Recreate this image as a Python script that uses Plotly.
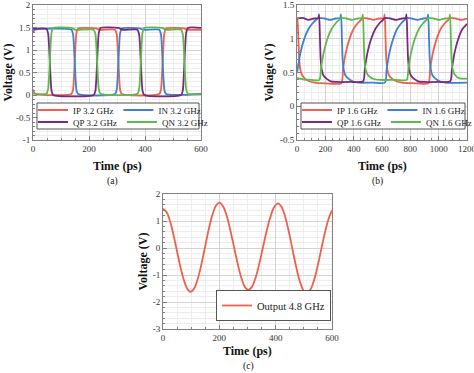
import plotly.graph_objects as go

# ---------------- data ----------------
# Panel (a) 3.2 GHz quadrature outputs
IP_A_T = [0, 8, 137, 143, 149, 155, 161, 225, 240, 293, 299, 305, 311, 317, 451, 457, 463, 469, 475, 539, 554, 600]
IP_A_V = [0.12, 0.03, 0.02, 0.12, 0.74, 1.37, 1.48, 1.48, 1.45, 1.45, 1.35, 0.74, 0.12, 0.02, 0.02, 0.12, 0.74, 1.37, 1.48, 1.48, 1.45, 1.45]
IN_A_T = [0, 6, 137, 143, 149, 155, 161, 293, 299, 305, 311, 317, 381, 396, 451, 457, 463, 469, 475, 600]
IN_A_V = [1.38, 1.45, 1.45, 1.35, 0.74, 0.12, 0.02, 0.02, 0.12, 0.74, 1.37, 1.48, 1.48, 1.45, 1.45, 1.35, 0.74, 0.12, 0.02, 0.02]
QP_A_T = [0, 48, 54, 60, 66, 72, 217, 223, 229, 235, 241, 305, 320, 373, 379, 385, 391, 397, 529, 535, 541, 547, 553, 600]
QP_A_V = [1.47, 1.47, 1.37, 0.74, 0.10, 0.0, 0.0, 0.10, 0.74, 1.38, 1.49, 1.49, 1.45, 1.45, 1.35, 0.74, 0.10, 0.0, 0.0, 0.10, 0.74, 1.38, 1.49, 1.49]
QN_A_T = [0, 48, 54, 60, 66, 72, 136, 151, 217, 223, 229, 235, 241, 373, 379, 385, 391, 397, 461, 476, 529, 535, 541, 547, 553, 600]
QN_A_V = [0.03, 0.03, 0.13, 0.74, 1.38, 1.49, 1.49, 1.45, 1.45, 1.35, 0.74, 0.13, 0.03, 0.03, 0.13, 0.74, 1.38, 1.49, 1.49, 1.45, 1.45, 1.35, 0.74, 0.13, 0.03, 0.03]

# Panel (b) 1.6 GHz quadrature outputs
IP_B_T = [0, 4, 10, 15, 22, 34, 56, 86, 126, 200, 313, 325, 343, 368, 398, 428, 458, 467, 500, 540, 580, 613, 619,
          625, 630, 637, 649, 671, 701, 741, 850, 928, 940, 958, 983, 1013, 1043, 1073, 1082, 1120, 1160, 1200]
IP_B_V = [1.30, 1.25, 1.0, 0.72, 0.56, 0.47, 0.41, 0.37, 0.35, 0.34, 0.34, 0.55, 0.78, 0.98, 1.14, 1.23, 1.29, 1.31, 1.30, 1.28, 1.30, 1.31, 1.36,
          1.0, 0.7, 0.55, 0.46, 0.41, 0.37, 0.35, 0.34, 0.34, 0.55, 0.78, 0.98, 1.14, 1.23, 1.29, 1.31, 1.30, 1.28, 1.30]
IN_B_T = [0, 8, 25, 50, 80, 110, 140, 158, 195, 235, 270, 305, 311, 317, 322, 329, 341, 363, 393, 433, 540, 621, 633, 651, 676,
          706, 736, 766, 775, 810, 850, 890, 920, 926, 932, 937, 944, 956, 978, 1008, 1048, 1200]
IN_B_V = [0.49, 0.60, 0.80, 0.99, 1.14, 1.23, 1.29, 1.31, 1.30, 1.28, 1.30, 1.31, 1.36, 1.0, 0.7, 0.55, 0.46, 0.41, 0.37, 0.35, 0.35, 0.35, 0.55, 0.78, 0.98,
          1.14, 1.23, 1.29, 1.31, 1.30, 1.28, 1.30, 1.31, 1.36, 1.0, 0.7, 0.55, 0.46, 0.41, 0.37, 0.35, 0.35]
QP_B_T = [0, 40, 80, 120, 150, 156, 162, 167, 174, 186, 208, 238, 278, 380, 467, 479, 497, 522, 552, 582, 612, 621, 660, 700, 740,
          767, 773, 779, 784, 791, 803, 825, 855, 895, 1000, 1082, 1094, 1112, 1137, 1167, 1200]
QP_B_V = [1.30, 1.31, 1.28, 1.30, 1.31, 1.36, 1.0, 0.7, 0.55, 0.46, 0.41, 0.37, 0.36, 0.36, 0.37, 0.56, 0.79, 0.99, 1.14, 1.23, 1.29, 1.31, 1.30, 1.28, 1.30,
          1.31, 1.36, 1.0, 0.7, 0.55, 0.46, 0.41, 0.37, 0.36, 0.36, 0.37, 0.56, 0.79, 0.99, 1.14, 1.22]
QN_B_T = [0, 40, 100, 158, 170, 188, 213, 243, 273, 303, 313, 350, 390, 430, 459, 465, 471, 476, 483, 495, 517, 547, 587, 700, 775,
          787, 805, 830, 860, 890, 920, 928, 965, 1005, 1045, 1074, 1080, 1086, 1091, 1098, 1110, 1132, 1162, 1200]
QN_B_V = [0.42, 0.40, 0.39, 0.39, 0.57, 0.79, 0.99, 1.14, 1.23, 1.29, 1.31, 1.30, 1.28, 1.30, 1.31, 1.36, 1.0, 0.7, 0.56, 0.48, 0.43, 0.40, 0.39, 0.39, 0.39,
          0.57, 0.79, 0.99, 1.14, 1.23, 1.29, 1.31, 1.30, 1.28, 1.30, 1.31, 1.36, 1.0, 0.7, 0.56, 0.48, 0.43, 0.41, 0.41]

# Panel (c) 4.8 GHz output
OUT_T = [0, 13, 26, 39, 52, 65, 78, 88, 98, 111, 124, 137, 150, 163, 176, 189, 200, 213, 226, 239, 252, 265, 278, 291, 303,
         316, 329, 342, 355, 368, 381, 394, 408, 421, 434, 447, 460, 473, 486, 499, 510, 523, 536, 549, 562, 575, 588, 600]
OUT_V = [1.45, 1.32, 0.95, 0.40, -0.23, -0.84, -1.31, -1.54, -1.62, -1.49, -1.12, -0.57, 0.08, 0.72, 1.25, 1.58, 1.68, 1.55, 1.20, 0.66, 0.04, -0.58, -1.10, -1.45, -1.55,
         -1.43, -1.09, -0.58, 0.03, 0.63, 1.15, 1.50, 1.65, 1.52, 1.15, 0.59, -0.07, -0.71, -1.24, -1.58, -1.68, -1.55, -1.20, -0.67, -0.04, 0.57, 1.08, 1.39]

NAMES_A = ["IP 3.2 GHz", "IN 3.2 GHz", "QP 3.2 GHz", "QN 3.2 GHz"]
NAMES_B = ["IP 1.6 GHz", "IN 1.6 GHz", "QP 1.6 GHz", "QN 1.6 GHz"]
NAME_C = "Output 4.8 GHz"

XTICKS_A = [0, 200, 400, 600]
YTICKS_A = [-1, -0.5, 0, 0.5, 1, 1.5, 2]
YLABELS_A = ["-1", "-0.5", "0", "0.5", "1", "1.5", "2"]
XTICKS_B = [0, 200, 400, 600, 800, 1000, 1200]
YTICKS_B = [-0.5, 0, 0.5, 1, 1.5]
YLABELS_B = ["-0.5", "0", "0.5", "1", "1.5"]
XTICKS_C = [0, 200, 400, 600]
YTICKS_C = [-3, -2, -1, 0, 1, 2]
YLABELS_C = ["-3", "-2", "-1", "0", "1", "2"]

# ---------------- styling ----------------
RED = "#F0604A"
BLUE = "#3D82D0"
PURPLE = "#7A2A7E"
GREEN = "#5DBB4A"
SERIF = "Liberation Serif"
W, H = 474, 373

fig = go.Figure()


def add(x, y, name, color, xa, ya, leg, smooth=0.6):
    fig.add_trace(go.Scatter(x=x, y=y, name=name, mode="lines",
                             line=dict(color=color, width=1.8, shape="spline", smoothing=smooth),
                             xaxis=xa, yaxis=ya, legend=leg))


add(IP_A_T, IP_A_V, NAMES_A[0], RED, "x", "y", "legend")
add(IN_A_T, IN_A_V, NAMES_A[1], BLUE, "x", "y", "legend")
add(QP_A_T, QP_A_V, NAMES_A[2], PURPLE, "x", "y", "legend2")
add(QN_A_T, QN_A_V, NAMES_A[3], GREEN, "x", "y", "legend2")
add(IP_B_T, IP_B_V, NAMES_B[0], RED, "x2", "y2", "legend3")
add(IN_B_T, IN_B_V, NAMES_B[1], BLUE, "x2", "y2", "legend3")
add(QP_B_T, QP_B_V, NAMES_B[2], PURPLE, "x2", "y2", "legend4")
add(QN_B_T, QN_B_V, NAMES_B[3], GREEN, "x2", "y2", "legend4")
add(OUT_T, OUT_V, NAME_C, RED, "x3", "y3", "legend5", smooth=1.0)


def px_x(p):
    return p / W


def px_y(p):
    return 1 - p / H


def axis(domain, rng, tickvals, ticktext, minor_dtick, anchor):
    return dict(domain=domain, range=rng, anchor=anchor,
                tickmode="array", tickvals=tickvals, ticktext=ticktext,
                showline=True, mirror=True, linecolor="#808080", linewidth=1,
                ticks="inside", ticklen=4, tickcolor="#808080",
                showgrid=True, gridcolor="#d4d4d4", gridwidth=1, zeroline=False,
                tickfont=dict(family=SERIF, size=9, color="#333"),
                ticklabeloverflow="allow",
                minor=dict(dtick=minor_dtick, ticks="inside", ticklen=2, tickcolor="#808080",
                           showgrid=True, gridcolor="#eeeeee", gridwidth=1),
                fixedrange=True)


dom_a_x = [px_x(33), px_x(201)]
dom_b_x = [px_x(297), px_x(467)]
dom_ab_y = [px_y(140), px_y(5)]
dom_c_x = [px_x(163), px_x(332)]
dom_c_y = [px_y(329), px_y(194)]

fig.update_layout(
    width=W, height=H, margin=dict(l=0, r=0, t=0, b=0, autoexpand=False),
    paper_bgcolor="white", plot_bgcolor="white",
    xaxis=axis(dom_a_x, [0, 600], XTICKS_A, [str(v) for v in XTICKS_A], 50, "y"),
    yaxis=axis(dom_ab_y, [-1, 2], YTICKS_A, YLABELS_A, 0.1, "x"),
    xaxis2=axis(dom_b_x, [0, 1200], XTICKS_B, [str(v) for v in XTICKS_B], 50, "y2"),
    yaxis2=axis(dom_ab_y, [-0.5, 1.5], YTICKS_B, YLABELS_B, 0.1, "x2"),
    xaxis3=axis(dom_c_x, [0, 600], XTICKS_C, [str(v) for v in XTICKS_C], 50, "y3"),
    yaxis3=axis(dom_c_y, [-3, 2], YTICKS_C, YLABELS_C, 0.2, "x3"),
)

legfont = dict(family=SERIF, size=9, color="#222")


def leg(x, y):
    return dict(x=x, y=y, xanchor="left", yanchor="middle", orientation="h",
                font=legfont, bgcolor="rgba(0,0,0,0)", borderwidth=0,
                itemwidth=30, tracegroupgap=0)


fig.update_layout(
    legend=leg(px_x(33), px_y(110)),
    legend2=leg(px_x(33), px_y(122)),
    legend3=leg(px_x(297), px_y(110)),
    legend4=leg(px_x(297), px_y(122)),
    legend5=dict(x=px_x(331), y=px_y(321), xanchor="right", yanchor="bottom",
                 font=dict(family=SERIF, size=10.5, color="#222"),
                 bgcolor="white", bordercolor="#555", borderwidth=1, itemwidth=30),
)

# legend frames
for x0, x1 in [(37, 199), (301, 465)]:
    fig.add_shape(type="rect", xref="paper", yref="paper",
                  x0=px_x(x0), x1=px_x(x1), y0=px_y(129), y1=px_y(103),
                  line=dict(color="#555", width=1), fillcolor="white", layer="above")

ann = []
tfont = dict(family=SERIF, size=12, color="#111", weight="bold")
for x, y in [(px_x(7), px_y(72.5)), (px_x(268), px_y(72.5)), (px_x(142), px_y(261.5))]:
    ann.append(dict(text="Voltage (V)", x=x, y=y, xref="paper", yref="paper", textangle=-90,
                    showarrow=False, font=tfont, xanchor="center", yanchor="middle"))
for x, y in [(px_x(117), px_y(166)), (px_x(382), px_y(166)), (px_x(247.5), px_y(351))]:
    ann.append(dict(text="Time (ps)", x=x, y=y, xref="paper", yref="paper",
                    showarrow=False, font=tfont, xanchor="center", yanchor="middle"))
for t, x, y in [("(a)", px_x(112), px_y(181)), ("(b)", px_x(377), px_y(181)), ("(c)", px_x(248), px_y(366))]:
    ann.append(dict(text=t, x=x, y=y, xref="paper", yref="paper", showarrow=False,
                    font=dict(family=SERIF, size=9.5, color="#111"), xanchor="center", yanchor="middle"))
fig.update_layout(annotations=ann)

fig.write_html("out.html", config={"displayModeBar": False},
               post_script="document.body.style.margin='0px';document.body.style.overflow='hidden';")
